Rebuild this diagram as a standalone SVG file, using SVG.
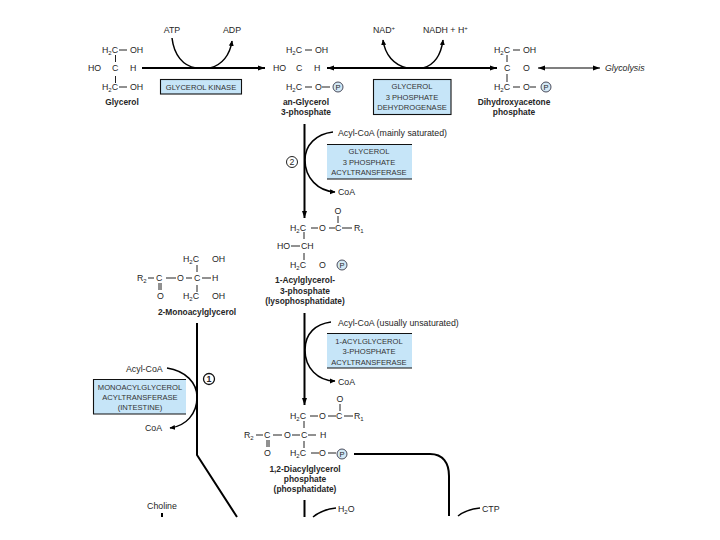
<svg xmlns="http://www.w3.org/2000/svg" width="720" height="540" viewBox="0 0 720 540">
<style>
text{font-family:"Liberation Sans",Arial,sans-serif;font-size:8.8px;fill:#262626}
.m{text-anchor:middle}
.b{font-weight:bold;font-size:8.4px}
.e{font-size:7.6px;fill:#333;text-anchor:middle}
.s{font-size:6px}
.bond{stroke:#222;stroke-width:1;fill:none}
.main{stroke:#000;stroke-width:2;fill:none}
.thin{stroke:#000;stroke-width:1.2;fill:none}
.cur{stroke:#000;stroke-width:1.5;fill:none}
.box{fill:#c6e5f8}
.edge{stroke:#111;stroke-width:1.1;fill:none}
.p{fill:#d3e8f5;stroke:#223;stroke-width:.8}
</style>
<defs>
<marker id="a" markerUnits="userSpaceOnUse" markerWidth="8" markerHeight="6" refX="7" refY="3" orient="auto-start-reverse"><path d="M0 .5L7 3L0 5.500Z" fill="#000"/></marker>
<marker id="c" markerUnits="userSpaceOnUse" markerWidth="7" markerHeight="7" refX="5" refY="3" orient="auto-start-reverse"><path d="M0 .5L5.500 3L0 5.500Z" fill="#000"/></marker>
</defs>
<rect width="720" height="540" fill="#fff"/>
<g id="connectors">
<path class="main" d="M142 68H265" marker-end="url(#a)"/>
<path class="main" d="M327 68H497" marker-start="url(#a)" marker-end="url(#a)"/>
<path class="thin" d="M538 68H600" marker-start="url(#a)" marker-end="url(#a)"/>
<path class="cur" d="M172 38C174 55 183 66 196 68"/>
<path class="cur" d="M210 68C222 65 230 55 232 41" marker-end="url(#c)"/>
<path class="cur" d="M407 68C394 65 385 55 383 40" marker-end="url(#c)"/>
<path class="cur" d="M423 68C434 65 441 55 443 40" marker-end="url(#c)"/>
<path class="main" d="M304.500 124V218" marker-end="url(#a)"/>
<path class="cur" d="M333 132C316 134 305 145 305 160C305 178 318 191 335 192" marker-end="url(#c)"/>
<path class="main" d="M304.500 313V405" marker-end="url(#a)"/>
<path class="cur" d="M331 322C316 324 305 333 305 350C305 368 318 381 335 381" marker-end="url(#c)"/>
<path class="main" d="M304.500 500V517"/>
<path class="cur" d="M313 517C319 512 326 509 336 508"/>
<path class="main" d="M354 454H430C443 454 449 463 449 476V516"/>
<path class="cur" d="M458 516C464 511 471 509 480 508"/>
<path class="main" d="M197 323V455L237 517"/>
<path class="cur" d="M167 368C186 371 197 383 197 397C197 414 186 426 170 428" marker-end="url(#c)"/>
<path class="main" d="M162 513V517"/>
</g>
<g id="glycerol">
<text x="102" y="53">H<tspan class="s" dy="1.500">2</tspan><tspan dy="-1.500">C</tspan></text><path class="bond" d="M119 50H127M115.500 55V62M115.500 76V83"/><text x="130" y="53">OH</text>
<text x="88" y="71">HO</text><text x="112" y="71">C</text><text x="130" y="71">H</text>
<text x="102" y="90">H<tspan class="s" dy="1.500">2</tspan><tspan dy="-1.500">C</tspan></text><path class="bond" d="M119 87H127"/><text x="130" y="90">OH</text>
<text class="b m" x="122" y="105">Glycerol</text>
</g>
<g id="atp"><text class="m" x="172" y="33">ATP</text></g>
<g id="adp"><text class="m" x="232" y="33">ADP</text></g>
<g id="glycerol-kinase"><rect class="box" x="160.500" y="79.500" width="81" height="14.500"/><rect class="edge" x="160.500" y="79.500" width="81" height="14.500"/><text class="e" x="201" y="89.500">GLYCEROL KINASE</text></g>
<g id="glycerol-3-phosphate">
<text x="286" y="53">H<tspan class="s" dy="1.500">2</tspan><tspan dy="-1.500">C</tspan></text><path class="bond" d="M305 50H312"/><text x="315" y="53">OH</text>
<text x="273" y="71">HO</text><text x="296" y="71">C</text><text x="314" y="71">H</text>
<text x="286" y="90">H<tspan class="s" dy="1.500">2</tspan><tspan dy="-1.500">C</tspan></text><path class="bond" d="M305 87H312M322 87H330"/><text x="315" y="90">O</text>
<circle class="p" cx="338" cy="87" r="5"/><text class="m" x="338" y="90" style="font-size:7.500px">P</text>
<text class="b m" x="306" y="105">an-Glycerol</text><text class="b m" x="306" y="115">3-phosphate</text>
</g>
<g id="nad"><text x="373" y="33">NAD<tspan class="s" dy="-3">+</tspan></text></g>
<g id="nadh"><text x="423" y="33">NADH + H<tspan class="s" dy="-3">+</tspan></text></g>
<g id="dehydrogenase"><rect class="box" x="373.500" y="79.500" width="77.500" height="35"/><rect class="edge" x="373.500" y="79.500" width="77.500" height="35"/><text class="e" x="412" y="89">GLYCEROL</text><text class="e" x="412" y="99.500">3 PHOSPHATE</text><text class="e" x="412" y="110">DEHYDROGENASE</text></g>
<g id="dhap">
<text x="494" y="53">H<tspan class="s" dy="1.500">2</tspan><tspan dy="-1.500">C</tspan></text><path class="bond" d="M513 50H520M507 55V62M507 74V82"/><text x="523" y="53">OH</text>
<text x="504" y="71">C</text><text x="523" y="71">O</text>
<text x="494" y="90">H<tspan class="s" dy="1.500">2</tspan><tspan dy="-1.500">C</tspan></text><path class="bond" d="M513 87H520M530 87H536"/><text x="523" y="90">O</text>
<circle class="p" cx="546" cy="87" r="5"/><text class="m" x="546" y="90" style="font-size:7.500px">P</text>
<text class="b m" x="514" y="105">Dihydroxyacetone</text><text class="b m" x="514" y="115">phosphate</text>
</g>
<g id="glycolysis"><text x="605" y="71" font-style="italic">Glycolysis</text></g>
<g id="circle-2"><circle cx="292" cy="162" r="5.500" fill="#fff" stroke="#222"/><text class="m" x="292" y="165">2</text></g>
<g id="acyl-coa-sat"><text x="338" y="136">Acyl-CoA (mainly saturated)</text></g>
<g id="coa-1"><text x="338" y="195">CoA</text></g>
<g id="acyltransferase-1"><rect class="box" x="327" y="144" width="85" height="35"/><path class="edge" d="M327 144.500H412M327 179H412"/><text class="e" x="369" y="154">GLYCEROL</text><text class="e" x="369" y="165">3 PHOSPHATE</text><text class="e" x="369" y="175">ACYLTRANSFERASE</text></g>
<g id="lysophosphatidate">
<text x="338" y="214" class="m">O</text><path class="bond" d="M338 216V223M311 228H318M329 228H335M342 228H352M304 232V239M304 253V260"/>
<text x="290" y="231">H<tspan class="s" dy="1.500">2</tspan><tspan dy="-1.500">C</tspan></text><text x="319" y="231">O</text><text x="335" y="231">C</text><text x="354" y="231">R<tspan class="s" dy="1.500">1</tspan></text>
<text x="277" y="249">HO</text><path class="bond" d="M291 246H300"/><text x="301" y="249">CH</text>
<text x="290" y="268">H<tspan class="s" dy="1.500">2</tspan><tspan dy="-1.500">C</tspan></text><text x="319" y="268">O</text>
<circle class="p" cx="342" cy="265" r="5"/><text class="m" x="342" y="268" style="font-size:7.500px">P</text>
<text class="b m" x="305" y="283">1-Acylglycerol-</text><text class="b m" x="305" y="294">3-phosphate</text><text class="b m" x="305" y="304">(lysophosphatidate)</text>
</g>
<g id="monoacylglycerol">
<text x="183" y="262">H<tspan class="s" dy="1.500">2</tspan><tspan dy="-1.500">C</tspan></text><text x="212" y="262">OH</text>
<path class="bond" d="M197 265V272M197 285V292M148 278H154M166 278H176M186 278H192M202 278H211M159 283V290M161 283V290"/>
<text x="137" y="281">R<tspan class="s" dy="1.500">2</tspan></text><text x="156" y="281">C</text><text x="177" y="281">O</text><text x="194" y="281">C</text><text x="212" y="281">H</text>
<text x="157" y="299">O</text><text x="183" y="299">H<tspan class="s" dy="1.500">2</tspan><tspan dy="-1.500">C</tspan></text><text x="212" y="299">OH</text>
<text class="b m" x="197" y="315">2-Monoacylglycerol</text>
</g>
<g id="acyl-coa-left"><text x="126" y="372">Acyl-CoA</text></g>
<g id="coa-left"><text x="145" y="431">CoA</text></g>
<g id="circle-1"><circle cx="209" cy="379" r="5.500" fill="#fff" stroke="#111" stroke-width="1.300"/><text class="m" x="209" y="382" font-weight="bold">1</text></g>
<g id="monoacyl-transferase"><rect class="box" x="93.500" y="379.500" width="92.500" height="34.500"/><path class="edge" d="M186 379.500H93.500V414H186"/><text class="e" x="140" y="390">MONOACYLGLYCEROL</text><text class="e" x="140" y="400">ACYLTRANSFERASE</text><text class="e" x="140" y="410">(INTESTINE)</text></g>
<g id="acyl-coa-unsat"><text x="338" y="326">Acyl-CoA (usually unsaturated)</text></g>
<g id="coa-2"><text x="338" y="385">CoA</text></g>
<g id="acyltransferase-2"><rect class="box" x="327" y="333" width="85" height="35"/><path class="edge" d="M327 333.500H412M327 368H412"/><text class="e" x="369" y="344">1-ACYLGLYCEROL</text><text class="e" x="369" y="354">3-PHOSPHATE</text><text class="e" x="369" y="365">ACYLTRANSFERASE</text></g>
<g id="phosphatidate">
<text x="340" y="402" class="m">O</text><path class="bond" d="M340 404V411M310 416H318M328 416H336M344 416H353M304 421V428M304 441V448M256 435H263M273 435H282M292 435H300M308 435H316M267 440V447M269 440V447M311 453H319M328 453H336"/>
<text x="290" y="419">H<tspan class="s" dy="1.500">2</tspan><tspan dy="-1.500">C</tspan></text><text x="319" y="419">O</text><text x="336" y="419">C</text><text x="354" y="419">R<tspan class="s" dy="1.500">1</tspan></text>
<text x="244" y="438">R<tspan class="s" dy="1.500">2</tspan></text><text x="264" y="438">C</text><text x="284" y="438">O</text><text x="301" y="438">C</text><text x="320" y="438">H</text>
<text x="264" y="456">O</text><text x="290" y="456">H<tspan class="s" dy="1.500">2</tspan><tspan dy="-1.500">C</tspan></text><text x="319" y="456">O</text>
<circle class="p" cx="342" cy="454" r="5"/><text class="m" x="342" y="457" style="font-size:7.500px">P</text>
<text class="b m" x="305" y="472">1,2-Diacylglycerol</text><text class="b m" x="305" y="482">phosphate</text><text class="b m" x="305" y="492">(phosphatidate)</text>
</g>
<g id="h2o"><text x="338" y="512">H<tspan class="s" dy="1.500">2</tspan><tspan dy="-1.500">O</tspan></text></g>
<g id="ctp"><text x="482" y="512">CTP</text></g>
<g id="choline"><text class="m" x="162" y="509">Choline</text></g>
</svg>
